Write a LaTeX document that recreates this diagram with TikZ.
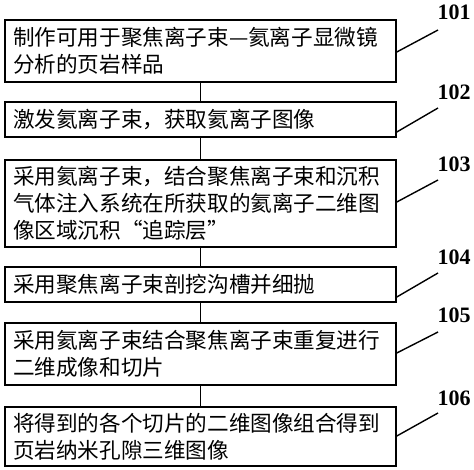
\documentclass[tikz,border=0pt]{standalone}
\usepackage{fontspec}
\newfontfamily\cjk{Noto Sans CJK SC}
\newfontfamily\numfont{Liberation Serif}
\begin{document}
\begin{tikzpicture}[x=1pt,y=-1pt,
  stepbox/.style={draw=black, line width=1.6pt, rectangle, inner xsep=8pt, inner ysep=0pt,
    text width=375pt, align=left, font=\cjk\fontsize{21.6}{27}\selectfont},
  link/.style={draw=black, line width=1.6pt},
  leader/.style={draw=black, line width=1.4pt},
  num/.style={font=\numfont\bfseries\fontsize{22}{22}\selectfont, inner sep=0pt}]
\useasboundingbox (0,0) rectangle (474,470);
\node[stepbox, minimum height=62pt] (b1) at (200.5,51) {制作可用于聚焦离子束—氦离子显微镜\\分析的页岩样品};
\node[stepbox, minimum height=35pt] (b2) at (200.5,119.5) {激发氦离子束，获取氦离子图像};
\node[stepbox, minimum height=87pt] (b3) at (200.5,203.5) {采用氦离子束，结合聚焦离子束和沉积\\气体注入系统在所获取的氦离子二维图\\像区域沉积“追踪层”};
\node[stepbox, minimum height=35pt] (b4) at (200.5,284.5) {采用聚焦离子束剖挖沟槽并细抛};
\node[stepbox, minimum height=62pt] (b5) at (200.5,354) {采用氦离子束结合聚焦离子束重复进行\\二维成像和切片};
\node[stepbox, minimum height=59pt] (b6) at (200.5,436.5) {将得到的各个切片的二维图像组合得到\\页岩纳米孔隙三维图像};
\draw[link] (b1.south) -- (b2.north);
\draw[link] (b2.south) -- (b3.north);
\draw[link] (b3.south) -- (b4.north);
\draw[link] (b4.south) -- (b5.north);
\draw[link] (b5.south) -- (b6.north);
\node[num] (n1) at (454,12) {101};
\node[num] (n2) at (454,92) {102};
\node[num] (n3) at (454,164) {103};
\node[num] (n4) at (454,257) {104};
\node[num] (n5) at (454,315) {105};
\node[num] (n6) at (454,398) {106};
\coordinate (e1) at (438,30);
\coordinate (e2) at (438,108);
\coordinate (e3) at (438,180);
\coordinate (e4) at (438,273);
\coordinate (e5) at (438,332);
\coordinate (e6) at (438,413);
\draw[leader] ([yshift=-1pt]b1.east) -- (e1);
\draw[leader] ([yshift=-12.5pt]b2.east) -- (e2);
\draw[leader] ([yshift=1.5pt]b3.east) -- (e3);
\draw[leader] ([yshift=-12.5pt]b4.east) -- (e4);
\draw[leader] ([yshift=1pt]b5.east) -- (e5);
\draw[leader] ([yshift=0.5pt]b6.east) -- (e6);
\end{tikzpicture}
\end{document}
